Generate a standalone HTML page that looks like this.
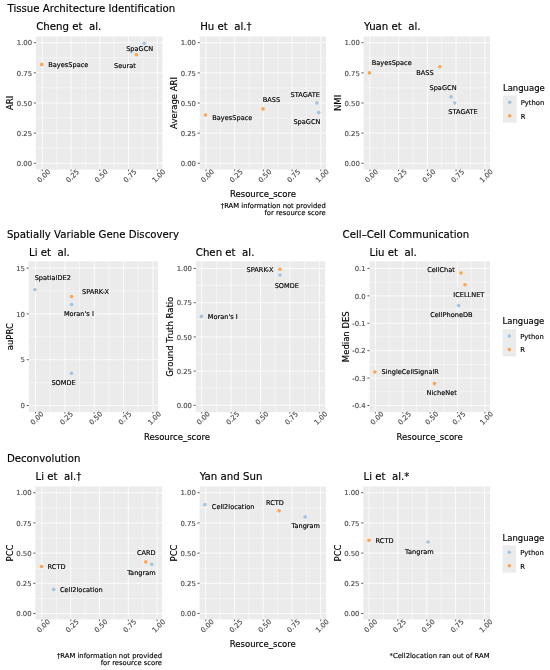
<!DOCTYPE html>
<html lang="en"><head><meta charset="utf-8"><title>Benchmark figure</title>
<style>html,body{margin:0;padding:0;background:#fff}svg{display:block}text{white-space:pre;stroke-width:0.15px;paint-order:stroke}</style>
</head><body>
<svg width="550" height="670" viewBox="0 0 550 670" font-family='"DejaVu Sans", "Liberation Sans", sans-serif'>
<rect width="550" height="670" fill="#fff"/>
<text x="7.50" y="11.70" font-size="10.2" text-anchor="start" fill="#000" stroke="#000">Tissue Architecture Identification</text>
<rect x="35.90" y="36.45" width="126.50" height="133.05" fill="#EBEBEB"/>
<path d="M56.67 36.45V169.50M85.43 36.45V169.50M114.18 36.45V169.50M142.93 36.45V169.50M35.90 148.23H162.40M35.90 118.08H162.40M35.90 87.93H162.40M35.90 57.78H162.40" stroke="#fff" stroke-width="0.45" fill="none"/>
<path d="M42.30 36.45V169.50M71.05 36.45V169.50M99.80 36.45V169.50M128.55 36.45V169.50M157.30 36.45V169.50M35.90 163.30H162.40M35.90 133.15H162.40M35.90 103.00H162.40M35.90 72.85H162.40M35.90 42.70H162.40" stroke="#fff" stroke-width="0.8" fill="none"/>
<path d="M42.30 169.50V171.20M71.05 169.50V171.20M99.80 169.50V171.20M128.55 169.50V171.20M157.30 169.50V171.20M35.90 163.30h-2.1M35.90 133.15h-2.1M35.90 103.00h-2.1M35.90 72.85h-2.1M35.90 42.70h-2.1" stroke="#333" stroke-width="0.8" fill="none"/>
<text x="32.10" y="166.00" font-size="6.9" text-anchor="end" fill="#4D4D4D" stroke="#4D4D4D">0.00</text>
<text x="32.10" y="135.85" font-size="6.9" text-anchor="end" fill="#4D4D4D" stroke="#4D4D4D">0.25</text>
<text x="32.10" y="105.70" font-size="6.9" text-anchor="end" fill="#4D4D4D" stroke="#4D4D4D">0.50</text>
<text x="32.10" y="75.55" font-size="6.9" text-anchor="end" fill="#4D4D4D" stroke="#4D4D4D">0.75</text>
<text x="32.10" y="45.40" font-size="6.9" text-anchor="end" fill="#4D4D4D" stroke="#4D4D4D">1.00</text>
<text transform="translate(43.80 175.90) rotate(-45)" y="2.45" font-size="6.9" text-anchor="middle" fill="#4D4D4D" stroke="#4D4D4D">0.00</text>
<text transform="translate(72.55 175.90) rotate(-45)" y="2.45" font-size="6.9" text-anchor="middle" fill="#4D4D4D" stroke="#4D4D4D">0.25</text>
<text transform="translate(101.30 175.90) rotate(-45)" y="2.45" font-size="6.9" text-anchor="middle" fill="#4D4D4D" stroke="#4D4D4D">0.50</text>
<text transform="translate(130.05 175.90) rotate(-45)" y="2.45" font-size="6.9" text-anchor="middle" fill="#4D4D4D" stroke="#4D4D4D">0.75</text>
<text transform="translate(158.80 175.90) rotate(-45)" y="2.45" font-size="6.9" text-anchor="middle" fill="#4D4D4D" stroke="#4D4D4D">1.00</text>
<text x="36.20" y="29.60" font-size="10.2" text-anchor="start" fill="#000" stroke="#000">Cheng et  al.</text>
<text transform="translate(13.15 102.97) rotate(-90)" font-size="8.5" text-anchor="middle" fill="#000" stroke="#000">ARI</text>
<circle cx="41.70" cy="64.40" r="1.8" fill="#FDA550"/>
<circle cx="144.30" cy="43.30" r="1.8" fill="#A3C4E0"/>
<circle cx="136.40" cy="54.80" r="1.8" fill="#FDA550"/>
<text x="48.30" y="67.05" font-size="6.6" text-anchor="start" fill="#000" stroke="#000">BayesSpace</text>
<text x="126.20" y="51.05" font-size="6.6" text-anchor="start" fill="#000" stroke="#000">SpaGCN</text>
<text x="114.00" y="67.55" font-size="6.6" text-anchor="start" fill="#000" stroke="#000">Seurat</text>
<rect x="199.80" y="36.45" width="126.20" height="133.05" fill="#EBEBEB"/>
<path d="M220.35 36.45V169.50M249.05 36.45V169.50M277.75 36.45V169.50M306.45 36.45V169.50M199.80 148.23H326.00M199.80 118.08H326.00M199.80 87.93H326.00M199.80 57.78H326.00" stroke="#fff" stroke-width="0.45" fill="none"/>
<path d="M206.00 36.45V169.50M234.70 36.45V169.50M263.40 36.45V169.50M292.10 36.45V169.50M320.80 36.45V169.50M199.80 163.30H326.00M199.80 133.15H326.00M199.80 103.00H326.00M199.80 72.85H326.00M199.80 42.70H326.00" stroke="#fff" stroke-width="0.8" fill="none"/>
<path d="M206.00 169.50V171.20M234.70 169.50V171.20M263.40 169.50V171.20M292.10 169.50V171.20M320.80 169.50V171.20M199.80 163.30h-2.1M199.80 133.15h-2.1M199.80 103.00h-2.1M199.80 72.85h-2.1M199.80 42.70h-2.1" stroke="#333" stroke-width="0.8" fill="none"/>
<text x="196.00" y="166.00" font-size="6.9" text-anchor="end" fill="#4D4D4D" stroke="#4D4D4D">0.00</text>
<text x="196.00" y="135.85" font-size="6.9" text-anchor="end" fill="#4D4D4D" stroke="#4D4D4D">0.25</text>
<text x="196.00" y="105.70" font-size="6.9" text-anchor="end" fill="#4D4D4D" stroke="#4D4D4D">0.50</text>
<text x="196.00" y="75.55" font-size="6.9" text-anchor="end" fill="#4D4D4D" stroke="#4D4D4D">0.75</text>
<text x="196.00" y="45.40" font-size="6.9" text-anchor="end" fill="#4D4D4D" stroke="#4D4D4D">1.00</text>
<text transform="translate(207.50 175.90) rotate(-45)" y="2.45" font-size="6.9" text-anchor="middle" fill="#4D4D4D" stroke="#4D4D4D">0.00</text>
<text transform="translate(236.20 175.90) rotate(-45)" y="2.45" font-size="6.9" text-anchor="middle" fill="#4D4D4D" stroke="#4D4D4D">0.25</text>
<text transform="translate(264.90 175.90) rotate(-45)" y="2.45" font-size="6.9" text-anchor="middle" fill="#4D4D4D" stroke="#4D4D4D">0.50</text>
<text transform="translate(293.60 175.90) rotate(-45)" y="2.45" font-size="6.9" text-anchor="middle" fill="#4D4D4D" stroke="#4D4D4D">0.75</text>
<text transform="translate(322.30 175.90) rotate(-45)" y="2.45" font-size="6.9" text-anchor="middle" fill="#4D4D4D" stroke="#4D4D4D">1.00</text>
<text x="200.20" y="29.60" font-size="10.2" text-anchor="start" fill="#000" stroke="#000">Hu et  al.†</text>
<text transform="translate(177.05 102.97) rotate(-90)" font-size="8.5" text-anchor="middle" fill="#000" stroke="#000">Average ARI</text>
<circle cx="205.40" cy="115.00" r="1.8" fill="#FDA550"/>
<circle cx="263.00" cy="108.90" r="1.8" fill="#FDA550"/>
<circle cx="316.90" cy="102.90" r="1.8" fill="#A3C4E0"/>
<circle cx="318.70" cy="112.60" r="1.8" fill="#A3C4E0"/>
<text x="212.30" y="120.05" font-size="6.6" text-anchor="start" fill="#000" stroke="#000">BayesSpace</text>
<text x="262.70" y="102.45" font-size="6.6" text-anchor="start" fill="#000" stroke="#000">BASS</text>
<text x="320.00" y="96.85" font-size="6.6" text-anchor="end" fill="#000" stroke="#000">STAGATE</text>
<text x="320.50" y="124.15" font-size="6.6" text-anchor="end" fill="#000" stroke="#000">SpaGCN</text>
<rect x="363.60" y="36.45" width="126.40" height="133.05" fill="#EBEBEB"/>
<path d="M384.26 36.45V169.50M412.99 36.45V169.50M441.71 36.45V169.50M470.44 36.45V169.50M363.60 148.23H490.00M363.60 118.08H490.00M363.60 87.93H490.00M363.60 57.78H490.00" stroke="#fff" stroke-width="0.45" fill="none"/>
<path d="M369.90 36.45V169.50M398.62 36.45V169.50M427.35 36.45V169.50M456.07 36.45V169.50M484.80 36.45V169.50M363.60 163.30H490.00M363.60 133.15H490.00M363.60 103.00H490.00M363.60 72.85H490.00M363.60 42.70H490.00" stroke="#fff" stroke-width="0.8" fill="none"/>
<path d="M369.90 169.50V171.20M398.62 169.50V171.20M427.35 169.50V171.20M456.07 169.50V171.20M484.80 169.50V171.20M363.60 163.30h-2.1M363.60 133.15h-2.1M363.60 103.00h-2.1M363.60 72.85h-2.1M363.60 42.70h-2.1" stroke="#333" stroke-width="0.8" fill="none"/>
<text x="359.80" y="166.00" font-size="6.9" text-anchor="end" fill="#4D4D4D" stroke="#4D4D4D">0.00</text>
<text x="359.80" y="135.85" font-size="6.9" text-anchor="end" fill="#4D4D4D" stroke="#4D4D4D">0.25</text>
<text x="359.80" y="105.70" font-size="6.9" text-anchor="end" fill="#4D4D4D" stroke="#4D4D4D">0.50</text>
<text x="359.80" y="75.55" font-size="6.9" text-anchor="end" fill="#4D4D4D" stroke="#4D4D4D">0.75</text>
<text x="359.80" y="45.40" font-size="6.9" text-anchor="end" fill="#4D4D4D" stroke="#4D4D4D">1.00</text>
<text transform="translate(371.40 175.90) rotate(-45)" y="2.45" font-size="6.9" text-anchor="middle" fill="#4D4D4D" stroke="#4D4D4D">0.00</text>
<text transform="translate(400.12 175.90) rotate(-45)" y="2.45" font-size="6.9" text-anchor="middle" fill="#4D4D4D" stroke="#4D4D4D">0.25</text>
<text transform="translate(428.85 175.90) rotate(-45)" y="2.45" font-size="6.9" text-anchor="middle" fill="#4D4D4D" stroke="#4D4D4D">0.50</text>
<text transform="translate(457.57 175.90) rotate(-45)" y="2.45" font-size="6.9" text-anchor="middle" fill="#4D4D4D" stroke="#4D4D4D">0.75</text>
<text transform="translate(486.30 175.90) rotate(-45)" y="2.45" font-size="6.9" text-anchor="middle" fill="#4D4D4D" stroke="#4D4D4D">1.00</text>
<text x="364.10" y="29.60" font-size="10.2" text-anchor="start" fill="#000" stroke="#000">Yuan et  al.</text>
<text transform="translate(340.85 102.97) rotate(-90)" font-size="8.5" text-anchor="middle" fill="#000" stroke="#000">NMI</text>
<circle cx="369.40" cy="72.90" r="1.8" fill="#FDA550"/>
<circle cx="439.90" cy="66.80" r="1.8" fill="#FDA550"/>
<circle cx="451.10" cy="96.90" r="1.8" fill="#A3C4E0"/>
<circle cx="454.70" cy="103.00" r="1.8" fill="#A3C4E0"/>
<text x="371.70" y="65.05" font-size="6.6" text-anchor="start" fill="#000" stroke="#000">BayesSpace</text>
<text x="416.20" y="74.55" font-size="6.6" text-anchor="start" fill="#000" stroke="#000">BASS</text>
<text x="429.50" y="90.25" font-size="6.6" text-anchor="start" fill="#000" stroke="#000">SpaGCN</text>
<text x="448.30" y="113.95" font-size="6.6" text-anchor="start" fill="#000" stroke="#000">STAGATE</text>
<text x="263.00" y="197.00" font-size="8.5" text-anchor="middle" fill="#000" stroke="#000">Resource_score</text>
<text x="325.80" y="207.90" font-size="6.8" text-anchor="end" fill="#000" stroke="#000">†RAM information not provided</text>
<text x="325.80" y="214.90" font-size="6.8" text-anchor="end" fill="#000" stroke="#000">for resource score</text>
<text x="502.95" y="90.50" font-size="8.48" text-anchor="start" fill="#000" stroke="#000">Language</text>
<rect x="503.05" y="95.40" width="13.5" height="27.2" fill="#EBEBEB"/>
<circle cx="509.75" cy="102.20" r="1.8" fill="#A3C4E0"/>
<circle cx="509.75" cy="115.80" r="1.8" fill="#FDA550"/>
<text x="520.65" y="105.00" font-size="6.8" text-anchor="start" fill="#000" stroke="#000">Python</text>
<text x="520.65" y="118.60" font-size="6.8" text-anchor="start" fill="#000" stroke="#000">R</text>
<text x="6.90" y="237.50" font-size="10.2" text-anchor="start" fill="#000" stroke="#000">Spatially Variable Gene Discovery</text>
<text x="342.60" y="237.50" font-size="10.2" text-anchor="start" fill="#000" stroke="#000">Cell–Cell Communication</text>
<rect x="28.80" y="261.30" width="129.30" height="150.80" fill="#EBEBEB"/>
<path d="M50.17 261.30V412.10M79.53 261.30V412.10M108.88 261.30V412.10M138.23 261.30V412.10M28.80 382.60H158.10M28.80 336.80H158.10M28.80 291.00H158.10" stroke="#fff" stroke-width="0.45" fill="none"/>
<path d="M35.50 261.30V412.10M64.85 261.30V412.10M94.20 261.30V412.10M123.55 261.30V412.10M152.90 261.30V412.10M28.80 405.50H158.10M28.80 359.70H158.10M28.80 313.90H158.10M28.80 268.10H158.10" stroke="#fff" stroke-width="0.8" fill="none"/>
<path d="M35.50 412.10V413.50M64.85 412.10V413.50M94.20 412.10V413.50M123.55 412.10V413.50M152.90 412.10V413.50M28.80 405.50h-2.1M28.80 359.70h-2.1M28.80 313.90h-2.1M28.80 268.10h-2.1" stroke="#333" stroke-width="0.8" fill="none"/>
<text x="25.00" y="408.20" font-size="6.9" text-anchor="end" fill="#4D4D4D" stroke="#4D4D4D">0</text>
<text x="25.00" y="362.40" font-size="6.9" text-anchor="end" fill="#4D4D4D" stroke="#4D4D4D">5</text>
<text x="25.00" y="316.60" font-size="6.9" text-anchor="end" fill="#4D4D4D" stroke="#4D4D4D">10</text>
<text x="25.00" y="270.80" font-size="6.9" text-anchor="end" fill="#4D4D4D" stroke="#4D4D4D">15</text>
<text transform="translate(37.00 418.20) rotate(-45)" y="2.45" font-size="6.9" text-anchor="middle" fill="#4D4D4D" stroke="#4D4D4D">0.00</text>
<text transform="translate(66.35 418.20) rotate(-45)" y="2.45" font-size="6.9" text-anchor="middle" fill="#4D4D4D" stroke="#4D4D4D">0.25</text>
<text transform="translate(95.70 418.20) rotate(-45)" y="2.45" font-size="6.9" text-anchor="middle" fill="#4D4D4D" stroke="#4D4D4D">0.50</text>
<text transform="translate(125.05 418.20) rotate(-45)" y="2.45" font-size="6.9" text-anchor="middle" fill="#4D4D4D" stroke="#4D4D4D">0.75</text>
<text transform="translate(154.40 418.20) rotate(-45)" y="2.45" font-size="6.9" text-anchor="middle" fill="#4D4D4D" stroke="#4D4D4D">1.00</text>
<text x="29.00" y="255.50" font-size="10.2" text-anchor="start" fill="#000" stroke="#000">Li et  al.</text>
<text transform="translate(13.25 336.70) rotate(-90)" font-size="8.5" text-anchor="middle" fill="#000" stroke="#000">auPRC</text>
<circle cx="34.90" cy="289.80" r="1.8" fill="#A3C4E0"/>
<circle cx="71.60" cy="296.60" r="1.8" fill="#FDA550"/>
<circle cx="71.60" cy="304.50" r="1.8" fill="#A3C4E0"/>
<circle cx="71.50" cy="373.30" r="1.8" fill="#A3C4E0"/>
<text x="34.70" y="280.05" font-size="6.6" text-anchor="start" fill="#000" stroke="#000">SpatialDE2</text>
<text x="82.00" y="293.75" font-size="6.6" text-anchor="start" fill="#000" stroke="#000">SPARK-X</text>
<text x="63.90" y="315.85" font-size="6.6" text-anchor="start" fill="#000" stroke="#000">Moran&#39;s I</text>
<text x="63.60" y="385.05" font-size="6.6" text-anchor="middle" fill="#000" stroke="#000">SOMDE</text>
<rect x="195.80" y="261.30" width="129.40" height="150.80" fill="#EBEBEB"/>
<path d="M216.40 261.30V412.10M245.80 261.30V412.10M275.20 261.30V412.10M304.60 261.30V412.10M195.80 388.20H325.20M195.80 354.00H325.20M195.80 319.80H325.20M195.80 285.60H325.20" stroke="#fff" stroke-width="0.45" fill="none"/>
<path d="M201.70 261.30V412.10M231.10 261.30V412.10M260.50 261.30V412.10M289.90 261.30V412.10M319.30 261.30V412.10M195.80 405.30H325.20M195.80 371.10H325.20M195.80 336.90H325.20M195.80 302.70H325.20M195.80 268.50H325.20" stroke="#fff" stroke-width="0.8" fill="none"/>
<path d="M201.70 412.10V413.50M231.10 412.10V413.50M260.50 412.10V413.50M289.90 412.10V413.50M319.30 412.10V413.50M195.80 405.30h-2.1M195.80 371.10h-2.1M195.80 336.90h-2.1M195.80 302.70h-2.1M195.80 268.50h-2.1" stroke="#333" stroke-width="0.8" fill="none"/>
<text x="192.00" y="408.00" font-size="6.9" text-anchor="end" fill="#4D4D4D" stroke="#4D4D4D">0.00</text>
<text x="192.00" y="373.80" font-size="6.9" text-anchor="end" fill="#4D4D4D" stroke="#4D4D4D">0.25</text>
<text x="192.00" y="339.60" font-size="6.9" text-anchor="end" fill="#4D4D4D" stroke="#4D4D4D">0.50</text>
<text x="192.00" y="305.40" font-size="6.9" text-anchor="end" fill="#4D4D4D" stroke="#4D4D4D">0.75</text>
<text x="192.00" y="271.20" font-size="6.9" text-anchor="end" fill="#4D4D4D" stroke="#4D4D4D">1.00</text>
<text transform="translate(203.20 418.20) rotate(-45)" y="2.45" font-size="6.9" text-anchor="middle" fill="#4D4D4D" stroke="#4D4D4D">0.00</text>
<text transform="translate(232.60 418.20) rotate(-45)" y="2.45" font-size="6.9" text-anchor="middle" fill="#4D4D4D" stroke="#4D4D4D">0.25</text>
<text transform="translate(262.00 418.20) rotate(-45)" y="2.45" font-size="6.9" text-anchor="middle" fill="#4D4D4D" stroke="#4D4D4D">0.50</text>
<text transform="translate(291.40 418.20) rotate(-45)" y="2.45" font-size="6.9" text-anchor="middle" fill="#4D4D4D" stroke="#4D4D4D">0.75</text>
<text transform="translate(320.80 418.20) rotate(-45)" y="2.45" font-size="6.9" text-anchor="middle" fill="#4D4D4D" stroke="#4D4D4D">1.00</text>
<text x="195.80" y="255.50" font-size="10.2" text-anchor="start" fill="#000" stroke="#000">Chen et  al.</text>
<text transform="translate(172.75 336.70) rotate(-90)" font-size="8.5" text-anchor="middle" fill="#000" stroke="#000">Ground Truth Ratio</text>
<circle cx="201.40" cy="316.40" r="1.8" fill="#A3C4E0"/>
<circle cx="280.00" cy="269.20" r="1.8" fill="#FDA550"/>
<circle cx="280.00" cy="275.00" r="1.8" fill="#A3C4E0"/>
<text x="207.80" y="318.85" font-size="6.6" text-anchor="start" fill="#000" stroke="#000">Moran&#39;s I</text>
<text x="273.60" y="271.85" font-size="6.6" text-anchor="end" fill="#000" stroke="#000">SPARK-X</text>
<text x="274.70" y="287.85" font-size="6.6" text-anchor="start" fill="#000" stroke="#000">SOMDE</text>
<rect x="369.50" y="261.30" width="120.50" height="150.80" fill="#EBEBEB"/>
<path d="M389.18 261.30V412.10M416.52 261.30V412.10M443.88 261.30V412.10M471.22 261.30V412.10M369.50 391.79H490.00M369.50 364.37H490.00M369.50 336.95H490.00M369.50 309.53H490.00M369.50 282.11H490.00" stroke="#fff" stroke-width="0.45" fill="none"/>
<path d="M375.50 261.30V412.10M402.85 261.30V412.10M430.20 261.30V412.10M457.55 261.30V412.10M484.90 261.30V412.10M369.50 405.50H490.00M369.50 378.08H490.00M369.50 350.66H490.00M369.50 323.24H490.00M369.50 295.82H490.00M369.50 268.40H490.00" stroke="#fff" stroke-width="0.8" fill="none"/>
<path d="M375.50 412.10V413.50M402.85 412.10V413.50M430.20 412.10V413.50M457.55 412.10V413.50M484.90 412.10V413.50M369.50 405.50h-2.1M369.50 378.08h-2.1M369.50 350.66h-2.1M369.50 323.24h-2.1M369.50 295.82h-2.1M369.50 268.40h-2.1" stroke="#333" stroke-width="0.8" fill="none"/>
<text x="365.70" y="408.20" font-size="6.9" text-anchor="end" fill="#4D4D4D" stroke="#4D4D4D">-0.4</text>
<text x="365.70" y="380.78" font-size="6.9" text-anchor="end" fill="#4D4D4D" stroke="#4D4D4D">-0.3</text>
<text x="365.70" y="353.36" font-size="6.9" text-anchor="end" fill="#4D4D4D" stroke="#4D4D4D">-0.2</text>
<text x="365.70" y="325.94" font-size="6.9" text-anchor="end" fill="#4D4D4D" stroke="#4D4D4D">-0.1</text>
<text x="365.70" y="298.52" font-size="6.9" text-anchor="end" fill="#4D4D4D" stroke="#4D4D4D">0.0</text>
<text x="365.70" y="271.10" font-size="6.9" text-anchor="end" fill="#4D4D4D" stroke="#4D4D4D">0.1</text>
<text transform="translate(377.00 418.20) rotate(-45)" y="2.45" font-size="6.9" text-anchor="middle" fill="#4D4D4D" stroke="#4D4D4D">0.00</text>
<text transform="translate(404.35 418.20) rotate(-45)" y="2.45" font-size="6.9" text-anchor="middle" fill="#4D4D4D" stroke="#4D4D4D">0.25</text>
<text transform="translate(431.70 418.20) rotate(-45)" y="2.45" font-size="6.9" text-anchor="middle" fill="#4D4D4D" stroke="#4D4D4D">0.50</text>
<text transform="translate(459.05 418.20) rotate(-45)" y="2.45" font-size="6.9" text-anchor="middle" fill="#4D4D4D" stroke="#4D4D4D">0.75</text>
<text transform="translate(486.40 418.20) rotate(-45)" y="2.45" font-size="6.9" text-anchor="middle" fill="#4D4D4D" stroke="#4D4D4D">1.00</text>
<text x="369.50" y="255.50" font-size="10.2" text-anchor="start" fill="#000" stroke="#000">Liu et  al.</text>
<text transform="translate(348.75 336.70) rotate(-90)" font-size="8.5" text-anchor="middle" fill="#000" stroke="#000">Median DES</text>
<circle cx="461.00" cy="273.00" r="1.8" fill="#FDA550"/>
<circle cx="465.00" cy="284.80" r="1.8" fill="#FDA550"/>
<circle cx="458.60" cy="305.60" r="1.8" fill="#A3C4E0"/>
<circle cx="374.90" cy="372.00" r="1.8" fill="#FDA550"/>
<circle cx="434.50" cy="383.60" r="1.8" fill="#FDA550"/>
<text x="427.20" y="271.95" font-size="6.6" text-anchor="start" fill="#000" stroke="#000">CellChat</text>
<text x="453.20" y="296.75" font-size="6.6" text-anchor="start" fill="#000" stroke="#000">ICELLNET</text>
<text x="430.20" y="317.15" font-size="6.6" text-anchor="start" fill="#000" stroke="#000">CellPhoneDB</text>
<text x="381.50" y="374.15" font-size="6.6" text-anchor="start" fill="#000" stroke="#000">SingleCellSignalR</text>
<text x="426.60" y="395.45" font-size="6.6" text-anchor="start" fill="#000" stroke="#000">NicheNet</text>
<text x="177.00" y="440.30" font-size="8.5" text-anchor="middle" fill="#000" stroke="#000">Resource_score</text>
<text x="429.60" y="440.30" font-size="8.5" text-anchor="middle" fill="#000" stroke="#000">Resource_score</text>
<text x="502.50" y="324.20" font-size="8.48" text-anchor="start" fill="#000" stroke="#000">Language</text>
<rect x="502.60" y="329.20" width="13.5" height="27.2" fill="#EBEBEB"/>
<circle cx="509.30" cy="336.00" r="1.8" fill="#A3C4E0"/>
<circle cx="509.30" cy="349.60" r="1.8" fill="#FDA550"/>
<text x="520.20" y="338.80" font-size="6.8" text-anchor="start" fill="#000" stroke="#000">Python</text>
<text x="520.20" y="352.40" font-size="6.8" text-anchor="start" fill="#000" stroke="#000">R</text>
<text x="6.90" y="461.80" font-size="10.2" text-anchor="start" fill="#000" stroke="#000">Deconvolution</text>
<rect x="35.40" y="486.45" width="126.70" height="133.05" fill="#EBEBEB"/>
<path d="M56.30 486.45V619.50M85.10 486.45V619.50M113.90 486.45V619.50M142.70 486.45V619.50M35.40 598.40H162.10M35.40 568.20H162.10M35.40 538.00H162.10M35.40 507.80H162.10" stroke="#fff" stroke-width="0.45" fill="none"/>
<path d="M41.90 486.45V619.50M70.70 486.45V619.50M99.50 486.45V619.50M128.30 486.45V619.50M157.10 486.45V619.50M35.40 613.50H162.10M35.40 583.30H162.10M35.40 553.10H162.10M35.40 522.90H162.10M35.40 492.70H162.10" stroke="#fff" stroke-width="0.8" fill="none"/>
<path d="M41.90 619.50V621.20M70.70 619.50V621.20M99.50 619.50V621.20M128.30 619.50V621.20M157.10 619.50V621.20M35.40 613.50h-2.1M35.40 583.30h-2.1M35.40 553.10h-2.1M35.40 522.90h-2.1M35.40 492.70h-2.1" stroke="#333" stroke-width="0.8" fill="none"/>
<text x="31.60" y="616.20" font-size="6.9" text-anchor="end" fill="#4D4D4D" stroke="#4D4D4D">0.00</text>
<text x="31.60" y="586.00" font-size="6.9" text-anchor="end" fill="#4D4D4D" stroke="#4D4D4D">0.25</text>
<text x="31.60" y="555.80" font-size="6.9" text-anchor="end" fill="#4D4D4D" stroke="#4D4D4D">0.50</text>
<text x="31.60" y="525.60" font-size="6.9" text-anchor="end" fill="#4D4D4D" stroke="#4D4D4D">0.75</text>
<text x="31.60" y="495.40" font-size="6.9" text-anchor="end" fill="#4D4D4D" stroke="#4D4D4D">1.00</text>
<text transform="translate(43.40 625.90) rotate(-45)" y="2.45" font-size="6.9" text-anchor="middle" fill="#4D4D4D" stroke="#4D4D4D">0.00</text>
<text transform="translate(72.20 625.90) rotate(-45)" y="2.45" font-size="6.9" text-anchor="middle" fill="#4D4D4D" stroke="#4D4D4D">0.25</text>
<text transform="translate(101.00 625.90) rotate(-45)" y="2.45" font-size="6.9" text-anchor="middle" fill="#4D4D4D" stroke="#4D4D4D">0.50</text>
<text transform="translate(129.80 625.90) rotate(-45)" y="2.45" font-size="6.9" text-anchor="middle" fill="#4D4D4D" stroke="#4D4D4D">0.75</text>
<text transform="translate(158.60 625.90) rotate(-45)" y="2.45" font-size="6.9" text-anchor="middle" fill="#4D4D4D" stroke="#4D4D4D">1.00</text>
<text x="35.50" y="479.60" font-size="10.2" text-anchor="start" fill="#000" stroke="#000">Li et  al.†</text>
<text transform="translate(13.05 552.98) rotate(-90)" font-size="8.5" text-anchor="middle" fill="#000" stroke="#000">PCC</text>
<circle cx="41.50" cy="566.50" r="1.8" fill="#FDA550"/>
<circle cx="53.70" cy="589.40" r="1.8" fill="#A3C4E0"/>
<circle cx="145.80" cy="561.90" r="1.8" fill="#FDA550"/>
<circle cx="151.70" cy="564.20" r="1.8" fill="#A3C4E0"/>
<text x="47.60" y="568.95" font-size="6.6" text-anchor="start" fill="#000" stroke="#000">RCTD</text>
<text x="60.00" y="591.85" font-size="6.6" text-anchor="start" fill="#000" stroke="#000">Cell2location</text>
<text x="155.70" y="555.45" font-size="6.6" text-anchor="end" fill="#000" stroke="#000">CARD</text>
<text x="155.70" y="575.05" font-size="6.6" text-anchor="end" fill="#000" stroke="#000">Tangram</text>
<rect x="199.60" y="486.45" width="126.40" height="133.05" fill="#EBEBEB"/>
<path d="M220.07 486.45V619.50M248.82 486.45V619.50M277.57 486.45V619.50M306.32 486.45V619.50M199.60 598.40H326.00M199.60 568.20H326.00M199.60 538.00H326.00M199.60 507.80H326.00" stroke="#fff" stroke-width="0.45" fill="none"/>
<path d="M205.70 486.45V619.50M234.45 486.45V619.50M263.20 486.45V619.50M291.95 486.45V619.50M320.70 486.45V619.50M199.60 613.50H326.00M199.60 583.30H326.00M199.60 553.10H326.00M199.60 522.90H326.00M199.60 492.70H326.00" stroke="#fff" stroke-width="0.8" fill="none"/>
<path d="M205.70 619.50V621.20M234.45 619.50V621.20M263.20 619.50V621.20M291.95 619.50V621.20M320.70 619.50V621.20M199.60 613.50h-2.1M199.60 583.30h-2.1M199.60 553.10h-2.1M199.60 522.90h-2.1M199.60 492.70h-2.1" stroke="#333" stroke-width="0.8" fill="none"/>
<text x="195.80" y="616.20" font-size="6.9" text-anchor="end" fill="#4D4D4D" stroke="#4D4D4D">0.00</text>
<text x="195.80" y="586.00" font-size="6.9" text-anchor="end" fill="#4D4D4D" stroke="#4D4D4D">0.25</text>
<text x="195.80" y="555.80" font-size="6.9" text-anchor="end" fill="#4D4D4D" stroke="#4D4D4D">0.50</text>
<text x="195.80" y="525.60" font-size="6.9" text-anchor="end" fill="#4D4D4D" stroke="#4D4D4D">0.75</text>
<text x="195.80" y="495.40" font-size="6.9" text-anchor="end" fill="#4D4D4D" stroke="#4D4D4D">1.00</text>
<text transform="translate(207.20 625.90) rotate(-45)" y="2.45" font-size="6.9" text-anchor="middle" fill="#4D4D4D" stroke="#4D4D4D">0.00</text>
<text transform="translate(235.95 625.90) rotate(-45)" y="2.45" font-size="6.9" text-anchor="middle" fill="#4D4D4D" stroke="#4D4D4D">0.25</text>
<text transform="translate(264.70 625.90) rotate(-45)" y="2.45" font-size="6.9" text-anchor="middle" fill="#4D4D4D" stroke="#4D4D4D">0.50</text>
<text transform="translate(293.45 625.90) rotate(-45)" y="2.45" font-size="6.9" text-anchor="middle" fill="#4D4D4D" stroke="#4D4D4D">0.75</text>
<text transform="translate(322.20 625.90) rotate(-45)" y="2.45" font-size="6.9" text-anchor="middle" fill="#4D4D4D" stroke="#4D4D4D">1.00</text>
<text x="199.80" y="479.60" font-size="10.2" text-anchor="start" fill="#000" stroke="#000">Yan and Sun</text>
<text transform="translate(176.85 552.98) rotate(-90)" font-size="8.5" text-anchor="middle" fill="#000" stroke="#000">PCC</text>
<circle cx="204.90" cy="504.60" r="1.8" fill="#A3C4E0"/>
<circle cx="279.10" cy="510.80" r="1.8" fill="#FDA550"/>
<circle cx="305.10" cy="516.90" r="1.8" fill="#A3C4E0"/>
<text x="211.80" y="509.25" font-size="6.6" text-anchor="start" fill="#000" stroke="#000">Cell2location</text>
<text x="274.90" y="504.75" font-size="6.6" text-anchor="middle" fill="#000" stroke="#000">RCTD</text>
<text x="320.00" y="528.35" font-size="6.6" text-anchor="end" fill="#000" stroke="#000">Tangram</text>
<rect x="363.30" y="486.45" width="126.70" height="133.05" fill="#EBEBEB"/>
<path d="M383.53 486.45V619.50M412.38 486.45V619.50M441.23 486.45V619.50M470.07 486.45V619.50M363.30 598.40H490.00M363.30 568.20H490.00M363.30 538.00H490.00M363.30 507.80H490.00" stroke="#fff" stroke-width="0.45" fill="none"/>
<path d="M369.10 486.45V619.50M397.95 486.45V619.50M426.80 486.45V619.50M455.65 486.45V619.50M484.50 486.45V619.50M363.30 613.50H490.00M363.30 583.30H490.00M363.30 553.10H490.00M363.30 522.90H490.00M363.30 492.70H490.00" stroke="#fff" stroke-width="0.8" fill="none"/>
<path d="M369.10 619.50V621.20M397.95 619.50V621.20M426.80 619.50V621.20M455.65 619.50V621.20M484.50 619.50V621.20M363.30 613.50h-2.1M363.30 583.30h-2.1M363.30 553.10h-2.1M363.30 522.90h-2.1M363.30 492.70h-2.1" stroke="#333" stroke-width="0.8" fill="none"/>
<text x="359.50" y="616.20" font-size="6.9" text-anchor="end" fill="#4D4D4D" stroke="#4D4D4D">0.00</text>
<text x="359.50" y="586.00" font-size="6.9" text-anchor="end" fill="#4D4D4D" stroke="#4D4D4D">0.25</text>
<text x="359.50" y="555.80" font-size="6.9" text-anchor="end" fill="#4D4D4D" stroke="#4D4D4D">0.50</text>
<text x="359.50" y="525.60" font-size="6.9" text-anchor="end" fill="#4D4D4D" stroke="#4D4D4D">0.75</text>
<text x="359.50" y="495.40" font-size="6.9" text-anchor="end" fill="#4D4D4D" stroke="#4D4D4D">1.00</text>
<text transform="translate(370.60 625.90) rotate(-45)" y="2.45" font-size="6.9" text-anchor="middle" fill="#4D4D4D" stroke="#4D4D4D">0.00</text>
<text transform="translate(399.45 625.90) rotate(-45)" y="2.45" font-size="6.9" text-anchor="middle" fill="#4D4D4D" stroke="#4D4D4D">0.25</text>
<text transform="translate(428.30 625.90) rotate(-45)" y="2.45" font-size="6.9" text-anchor="middle" fill="#4D4D4D" stroke="#4D4D4D">0.50</text>
<text transform="translate(457.15 625.90) rotate(-45)" y="2.45" font-size="6.9" text-anchor="middle" fill="#4D4D4D" stroke="#4D4D4D">0.75</text>
<text transform="translate(486.00 625.90) rotate(-45)" y="2.45" font-size="6.9" text-anchor="middle" fill="#4D4D4D" stroke="#4D4D4D">1.00</text>
<text x="363.50" y="479.60" font-size="10.2" text-anchor="start" fill="#000" stroke="#000">Li et  al.*</text>
<text transform="translate(340.55 552.98) rotate(-90)" font-size="8.5" text-anchor="middle" fill="#000" stroke="#000">PCC</text>
<circle cx="369.00" cy="540.20" r="1.8" fill="#FDA550"/>
<circle cx="428.00" cy="542.00" r="1.8" fill="#A3C4E0"/>
<text x="375.60" y="542.75" font-size="6.6" text-anchor="start" fill="#000" stroke="#000">RCTD</text>
<text x="433.60" y="553.55" font-size="6.6" text-anchor="end" fill="#000" stroke="#000">Tangram</text>
<text x="262.80" y="646.90" font-size="8.5" text-anchor="middle" fill="#000" stroke="#000">Resource_score</text>
<text x="162.00" y="657.80" font-size="6.8" text-anchor="end" fill="#000" stroke="#000">†RAM information not provided</text>
<text x="162.00" y="665.00" font-size="6.8" text-anchor="end" fill="#000" stroke="#000">for resource score</text>
<text x="489.50" y="657.70" font-size="6.8" text-anchor="end" fill="#000" stroke="#000">*Cell2location ran out of RAM</text>
<text x="502.50" y="540.50" font-size="8.48" text-anchor="start" fill="#000" stroke="#000">Language</text>
<rect x="502.60" y="545.40" width="13.5" height="27.2" fill="#EBEBEB"/>
<circle cx="509.30" cy="552.20" r="1.8" fill="#A3C4E0"/>
<circle cx="509.30" cy="565.80" r="1.8" fill="#FDA550"/>
<text x="520.20" y="555.00" font-size="6.8" text-anchor="start" fill="#000" stroke="#000">Python</text>
<text x="520.20" y="568.60" font-size="6.8" text-anchor="start" fill="#000" stroke="#000">R</text>
</svg>
</body></html>
